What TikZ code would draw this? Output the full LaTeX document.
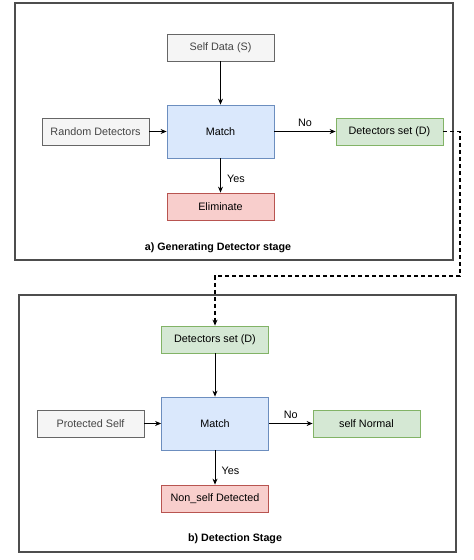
\documentclass[tikz,border=0pt]{standalone}
\usepackage{fontspec}
\setmainfont{Liberation Sans}
\usetikzlibrary{arrows.meta}
\definecolor{gfill}{HTML}{F5F5F5}\definecolor{gdraw}{HTML}{666666}
\definecolor{bfill}{HTML}{DAE8FC}\definecolor{bdraw}{HTML}{6C8EBF}
\definecolor{nfill}{HTML}{D5E8D4}\definecolor{ndraw}{HTML}{82B366}
\definecolor{rfill}{HTML}{F8CECC}\definecolor{rdraw}{HTML}{B85450}
\definecolor{gtext}{HTML}{444444}\definecolor{frame}{HTML}{4D4D4D}
\begin{document}
\begin{tikzpicture}[x=1pt,y=-1pt,
  base/.style={draw,line width=0.8pt,minimum width=107pt,minimum height=27pt,inner sep=0pt,font=\fontsize{10.8}{13}\selectfont},
  grey/.style={base,fill=gfill,draw=gdraw,text=gtext},
  blue/.style={base,fill=bfill,draw=bdraw,minimum height=53pt},
  green/.style={base,fill=nfill,draw=ndraw},
  red/.style={base,fill=rfill,draw=rdraw},
  frm/.style={draw=frame,line width=1.1pt},
  conn/.style={-{Stealth[length=6pt,width=5pt]},line width=0.8pt},
  lab/.style={font=\fontsize{10.8}{13}\selectfont},
  ttl/.style={font=\bfseries\fontsize{10.7}{13}\selectfont}]
\useasboundingbox (0,0) rectangle (474,560);
% frames
\draw[frm] (15,3) rectangle (453,260);
\draw[frm] (19,295) rectangle (456,552);
% top stage
\node[grey] (self) at (220.5,47.5) {Self Data (S)};
\node[blue] (m1) at (220.5,131.5) {Match};
\node[grey] (rand) at (95.5,131.5) {Random Detectors};
\node[green] (d1) at (389.5,131.5) {Detectors set (D)};
\node[red] (elim) at (220.5,206.5) {Eliminate};
\node[ttl] (t1) at (218,248) {a) Generating Detector stage};
\draw[conn] (self) -- (m1);
\draw[conn] (rand) -- (m1);
\draw[conn] (m1) -- node[lab,above,yshift=1pt] {No} (d1);
\draw[conn] (m1) -- node[lab,right,xshift=3pt,yshift=-3pt] {Yes} (elim);
% bottom stage
\node[green] (d2) at (215,339.5) {Detectors set (D)};
\node[blue] (m2) at (215,423.5) {Match};
\node[grey] (prot) at (90.5,423.5) {Protected Self};
\node[green] (norm) at (366.5,423.5) {self Normal};
\node[red] (nons) at (215,498.5) {Non\_self Detected};
\node[ttl] (t2) at (235,539) {b) Detection Stage};
\draw[conn] (d2) -- (m2);
\draw[conn] (prot) -- (m2);
\draw[conn] (m2) -- node[lab,above,yshift=1pt] {No} (norm);
\draw[conn] (m2) -- node[lab,right,xshift=3pt,yshift=-3pt] {Yes} (nons);
% dashed link
\coordinate (c1) at (460,131.5);
\coordinate (c2) at (460,276);
\coordinate (c3) at (215,276);
\draw[conn,line width=1.3pt,dash pattern=on 4pt off 3pt] (d1.east) -- (c1) -- (c2) -- (c3) -- (d2.north);
\end{tikzpicture}
\end{document}
